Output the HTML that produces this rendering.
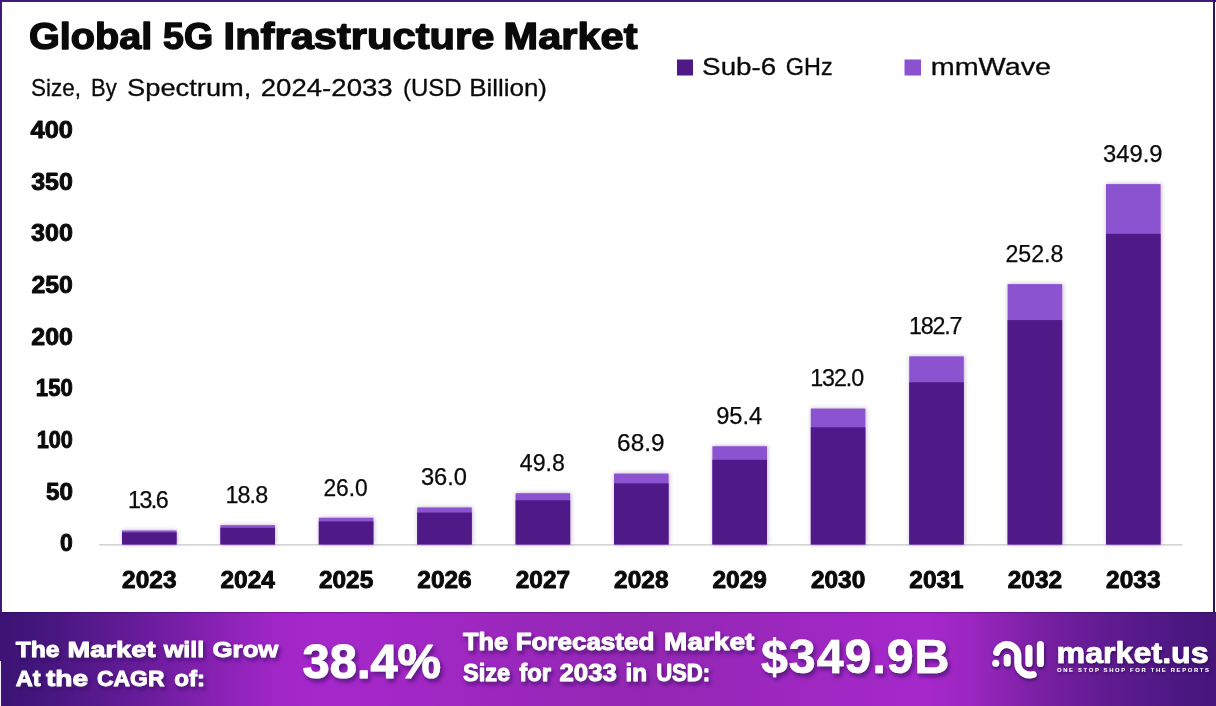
<!DOCTYPE html>
<html lang="en"><head><meta charset="utf-8"><title>Global 5G Infrastructure Market</title>
<style>
html,body{margin:0;padding:0;background:#fff;}
body{width:1216px;height:706px;overflow:hidden;position:relative;font-family:"Liberation Sans",sans-serif;}
svg{position:absolute;left:0;top:0;display:block;}
svg text{font-family:"Liberation Sans",sans-serif;}
</style></head><body>
<svg width="1216" height="706" viewBox="0 0 1216 706">
<defs>
<linearGradient id="bg" x1="0" y1="0" x2="1" y2="0">
<stop offset="0" stop-color="#3c1374"/>
<stop offset="0.025" stop-color="#40157a"/>
<stop offset="0.12" stop-color="#6a1c9c"/>
<stop offset="0.225" stop-color="#a026c6"/>
<stop offset="0.27" stop-color="#a628cb"/>
<stop offset="0.53" stop-color="#9327b3"/>
<stop offset="0.76" stop-color="#a628cb"/>
<stop offset="0.80" stop-color="#9a26c0"/>
<stop offset="0.853" stop-color="#7a20a4"/>
<stop offset="0.914" stop-color="#5e1b90"/>
<stop offset="0.976" stop-color="#4a1780"/>
<stop offset="1" stop-color="#45157a"/>
</linearGradient>
<filter id="bsh" x="-20%" y="-5%" width="140%" height="110%"><feDropShadow dx="0.6" dy="0" stdDeviation="2.2" flood-color="#3a2060" flood-opacity="0.33"/></filter>
<filter id="tsh" x="-10%" y="-30%" width="120%" height="170%"><feDropShadow dx="2" dy="3" stdDeviation="2.2" flood-color="#3b0f63" flood-opacity="0.75"/></filter>
<filter id="lsh" x="-20%" y="-30%" width="140%" height="170%"><feDropShadow dx="0.8" dy="1.6" stdDeviation="1.5" flood-color="#350d5c" flood-opacity="1"/></filter>
</defs>
<rect x="0" y="0" width="1216" height="706" fill="#ffffff"/>

<text y="49.1" font-size="37.2" font-weight="700" fill="#0a0a0a" stroke="#0a0a0a" stroke-width="1.4" stroke-linejoin="round"><tspan x="28.9" textLength="123.3" lengthAdjust="spacingAndGlyphs">Global</tspan> <tspan x="163.1" textLength="50.1" lengthAdjust="spacingAndGlyphs">5G</tspan> <tspan x="223.6" textLength="270.7" lengthAdjust="spacingAndGlyphs">Infrastructure</tspan> <tspan x="503.6" textLength="133.9" lengthAdjust="spacingAndGlyphs">Market</tspan></text>
<text y="95.8" font-size="24.3" font-weight="400" fill="#0a0a0a" stroke="#0a0a0a" stroke-width="0.3" stroke-linejoin="round"><tspan x="31.1" textLength="49.9" lengthAdjust="spacingAndGlyphs">Size,</tspan> <tspan x="91" textLength="25.7" lengthAdjust="spacingAndGlyphs">By</tspan> <tspan x="127.1" textLength="124.3" lengthAdjust="spacingAndGlyphs">Spectrum,</tspan> <tspan x="260.7" textLength="132.0" lengthAdjust="spacingAndGlyphs">2024-2033</tspan> <tspan x="403" textLength="58.6" lengthAdjust="spacingAndGlyphs">(USD</tspan> <tspan x="469.2" textLength="77.8" lengthAdjust="spacingAndGlyphs">Billion)</tspan></text>
<rect x="677" y="59.5" width="16" height="16" fill="#4f1a87"/>
<text y="75.4" font-size="24.4" font-weight="400" fill="#0a0a0a" stroke="#0a0a0a" stroke-width="0.3" stroke-linejoin="round"><tspan x="702.1" textLength="74.2" lengthAdjust="spacingAndGlyphs">Sub-6</tspan> <tspan x="785.8" textLength="46.8" lengthAdjust="spacingAndGlyphs">GHz</tspan></text>
<rect x="904.5" y="59.5" width="16.5" height="16" fill="#8b52d0"/>
<text x="930.7" y="75.4" font-size="24.4" font-weight="400" text-anchor="start" fill="#0a0a0a" textLength="120.4" lengthAdjust="spacingAndGlyphs" stroke="#0a0a0a" stroke-width="0.3" stroke-linejoin="round">mmWave</text>
<text x="60.1" y="551.2" font-size="23.4" font-weight="700" text-anchor="start" fill="#0a0a0a" textLength="12.8" lengthAdjust="spacingAndGlyphs" stroke="#0a0a0a" stroke-width="0.9" stroke-linejoin="round">0</text>
<text x="45.9" y="499.56" font-size="23.4" font-weight="700" text-anchor="start" fill="#0a0a0a" textLength="27.0" lengthAdjust="spacingAndGlyphs" stroke="#0a0a0a" stroke-width="0.9" stroke-linejoin="round">50</text>
<text x="36.7" y="447.92" font-size="23.4" font-weight="700" text-anchor="start" fill="#0a0a0a" textLength="36.2" lengthAdjust="spacingAndGlyphs" stroke="#0a0a0a" stroke-width="0.9" stroke-linejoin="round">100</text>
<text x="35.8" y="396.28" font-size="23.4" font-weight="700" text-anchor="start" fill="#0a0a0a" textLength="37.1" lengthAdjust="spacingAndGlyphs" stroke="#0a0a0a" stroke-width="0.9" stroke-linejoin="round">150</text>
<text x="31.3" y="344.64" font-size="23.4" font-weight="700" text-anchor="start" fill="#0a0a0a" textLength="41.6" lengthAdjust="spacingAndGlyphs" stroke="#0a0a0a" stroke-width="0.9" stroke-linejoin="round">200</text>
<text x="31.5" y="293.0" font-size="23.4" font-weight="700" text-anchor="start" fill="#0a0a0a" textLength="41.4" lengthAdjust="spacingAndGlyphs" stroke="#0a0a0a" stroke-width="0.9" stroke-linejoin="round">250</text>
<text x="31.0" y="241.36" font-size="23.4" font-weight="700" text-anchor="start" fill="#0a0a0a" textLength="41.9" lengthAdjust="spacingAndGlyphs" stroke="#0a0a0a" stroke-width="0.9" stroke-linejoin="round">300</text>
<text x="31.2" y="189.72" font-size="23.4" font-weight="700" text-anchor="start" fill="#0a0a0a" textLength="41.7" lengthAdjust="spacingAndGlyphs" stroke="#0a0a0a" stroke-width="0.9" stroke-linejoin="round">350</text>
<text x="30.5" y="138.08" font-size="23.4" font-weight="700" text-anchor="start" fill="#0a0a0a" textLength="42.4" lengthAdjust="spacingAndGlyphs" stroke="#0a0a0a" stroke-width="0.9" stroke-linejoin="round">400</text>
<rect x="99" y="544" width="1083.5" height="1.6" fill="#d4d4d4"/>
<g filter="url(#bsh)">
<rect x="122.0" y="530.49" width="54.6" height="14.01" fill="#8b52d0"/>
<rect x="220.4" y="525.14" width="54.6" height="19.36" fill="#8b52d0"/>
<rect x="318.8" y="517.72" width="54.6" height="26.78" fill="#8b52d0"/>
<rect x="417.2" y="507.42" width="54.6" height="37.08" fill="#8b52d0"/>
<rect x="515.6" y="493.21" width="54.6" height="51.29" fill="#8b52d0"/>
<rect x="614.0" y="473.53" width="54.6" height="70.97" fill="#8b52d0"/>
<rect x="712.4" y="446.24" width="54.6" height="98.26" fill="#8b52d0"/>
<rect x="810.8" y="408.54" width="54.6" height="135.96" fill="#8b52d0"/>
<rect x="909.2" y="356.32" width="54.6" height="188.18" fill="#8b52d0"/>
<rect x="1007.6" y="284.12" width="54.6" height="260.38" fill="#8b52d0"/>
<rect x="1106.0" y="184.10" width="54.6" height="360.40" fill="#8b52d0"/>
</g>
<rect x="122.0" y="532.43" width="54.6" height="12.07" fill="#4f1a87"/>
<rect x="220.4" y="527.81" width="54.6" height="16.69" fill="#4f1a87"/>
<rect x="318.8" y="521.42" width="54.6" height="23.08" fill="#4f1a87"/>
<rect x="417.2" y="512.54" width="54.6" height="31.96" fill="#4f1a87"/>
<rect x="515.6" y="500.28" width="54.6" height="44.22" fill="#4f1a87"/>
<rect x="614.0" y="483.33" width="54.6" height="61.17" fill="#4f1a87"/>
<rect x="712.4" y="459.80" width="54.6" height="84.70" fill="#4f1a87"/>
<rect x="810.8" y="427.30" width="54.6" height="117.20" fill="#4f1a87"/>
<rect x="909.2" y="382.29" width="54.6" height="162.21" fill="#4f1a87"/>
<rect x="1007.6" y="320.05" width="54.6" height="224.45" fill="#4f1a87"/>
<rect x="1106.0" y="233.84" width="54.6" height="310.66" fill="#4f1a87"/>
<text x="128.1" y="508.39" font-size="23.3" font-weight="400" text-anchor="start" fill="#0a0a0a" letter-spacing="-1.57" stroke="#0a0a0a" stroke-width="0.25" stroke-linejoin="round">13.6</text>
<text x="122.1" y="588.2" font-size="23.6" font-weight="700" text-anchor="start" fill="#0a0a0a" textLength="54.4" lengthAdjust="spacingAndGlyphs" stroke="#0a0a0a" stroke-width="0.9" stroke-linejoin="round">2023</text>
<text x="225.5" y="503.04" font-size="23.3" font-weight="400" text-anchor="start" fill="#0a0a0a" letter-spacing="-0.9" stroke="#0a0a0a" stroke-width="0.25" stroke-linejoin="round">18.8</text>
<text x="220.5" y="588.2" font-size="23.6" font-weight="700" text-anchor="start" fill="#0a0a0a" textLength="54.4" lengthAdjust="spacingAndGlyphs" stroke="#0a0a0a" stroke-width="0.9" stroke-linejoin="round">2024</text>
<text x="323.4" y="495.62" font-size="23.3" font-weight="400" text-anchor="start" fill="#0a0a0a" textLength="44.4" lengthAdjust="spacingAndGlyphs" stroke="#0a0a0a" stroke-width="0.25" stroke-linejoin="round">26.0</text>
<text x="318.9" y="588.2" font-size="23.6" font-weight="700" text-anchor="start" fill="#0a0a0a" textLength="54.4" lengthAdjust="spacingAndGlyphs" stroke="#0a0a0a" stroke-width="0.9" stroke-linejoin="round">2025</text>
<text x="420.95" y="485.32" font-size="23.3" font-weight="400" text-anchor="start" fill="#0a0a0a" textLength="46.1" lengthAdjust="spacingAndGlyphs" stroke="#0a0a0a" stroke-width="0.25" stroke-linejoin="round">36.0</text>
<text x="417.3" y="588.2" font-size="23.6" font-weight="700" text-anchor="start" fill="#0a0a0a" textLength="54.4" lengthAdjust="spacingAndGlyphs" stroke="#0a0a0a" stroke-width="0.9" stroke-linejoin="round">2026</text>
<text x="519.85" y="471.11" font-size="23.3" font-weight="400" text-anchor="start" fill="#0a0a0a" textLength="45.1" lengthAdjust="spacingAndGlyphs" stroke="#0a0a0a" stroke-width="0.25" stroke-linejoin="round">49.8</text>
<text x="515.7" y="588.2" font-size="23.6" font-weight="700" text-anchor="start" fill="#0a0a0a" textLength="54.4" lengthAdjust="spacingAndGlyphs" stroke="#0a0a0a" stroke-width="0.9" stroke-linejoin="round">2027</text>
<text x="617.1" y="451.43" font-size="23.3" font-weight="400" text-anchor="start" fill="#0a0a0a" textLength="47.4" lengthAdjust="spacingAndGlyphs" stroke="#0a0a0a" stroke-width="0.25" stroke-linejoin="round">68.9</text>
<text x="614.1" y="588.2" font-size="23.6" font-weight="700" text-anchor="start" fill="#0a0a0a" textLength="54.4" lengthAdjust="spacingAndGlyphs" stroke="#0a0a0a" stroke-width="0.9" stroke-linejoin="round">2028</text>
<text x="716.15" y="424.14" font-size="23.3" font-weight="400" text-anchor="start" fill="#0a0a0a" textLength="46.1" lengthAdjust="spacingAndGlyphs" stroke="#0a0a0a" stroke-width="0.25" stroke-linejoin="round">95.4</text>
<text x="712.5" y="588.2" font-size="23.6" font-weight="700" text-anchor="start" fill="#0a0a0a" textLength="54.4" lengthAdjust="spacingAndGlyphs" stroke="#0a0a0a" stroke-width="0.9" stroke-linejoin="round">2029</text>
<text x="810.2" y="386.44" font-size="23.3" font-weight="400" text-anchor="start" fill="#0a0a0a" letter-spacing="-1.08" stroke="#0a0a0a" stroke-width="0.25" stroke-linejoin="round">132.0</text>
<text x="810.9" y="588.2" font-size="23.6" font-weight="700" text-anchor="start" fill="#0a0a0a" textLength="54.4" lengthAdjust="spacingAndGlyphs" stroke="#0a0a0a" stroke-width="0.9" stroke-linejoin="round">2030</text>
<text x="909.1" y="334.22" font-size="23.3" font-weight="400" text-anchor="start" fill="#0a0a0a" letter-spacing="-1.25" stroke="#0a0a0a" stroke-width="0.25" stroke-linejoin="round">182.7</text>
<text x="909.3" y="588.2" font-size="23.6" font-weight="700" text-anchor="start" fill="#0a0a0a" textLength="54.4" lengthAdjust="spacingAndGlyphs" stroke="#0a0a0a" stroke-width="0.9" stroke-linejoin="round">2031</text>
<text x="1005.4" y="262.02" font-size="23.3" font-weight="400" text-anchor="start" fill="#0a0a0a" textLength="58" lengthAdjust="spacingAndGlyphs" stroke="#0a0a0a" stroke-width="0.25" stroke-linejoin="round">252.8</text>
<text x="1007.7" y="588.2" font-size="23.6" font-weight="700" text-anchor="start" fill="#0a0a0a" textLength="54.4" lengthAdjust="spacingAndGlyphs" stroke="#0a0a0a" stroke-width="0.9" stroke-linejoin="round">2032</text>
<text x="1103.05" y="162.0" font-size="23.3" font-weight="400" text-anchor="start" fill="#0a0a0a" textLength="59.5" lengthAdjust="spacingAndGlyphs" stroke="#0a0a0a" stroke-width="0.25" stroke-linejoin="round">349.9</text>
<text x="1106.1" y="588.2" font-size="23.6" font-weight="700" text-anchor="start" fill="#0a0a0a" textLength="54.4" lengthAdjust="spacingAndGlyphs" stroke="#0a0a0a" stroke-width="0.9" stroke-linejoin="round">2033</text>
<rect x="0" y="612" width="1216" height="94" fill="url(#bg)"/>
<rect x="0" y="612" width="1216" height="1.2" fill="#1a0040" fill-opacity="0.28"/>
<rect x="0" y="0" width="1216" height="2" fill="#3f1a7c"/>
<rect x="0" y="0" width="2" height="613" fill="#3f1a7c"/>
<rect x="1213" y="0" width="2" height="613" fill="#2f145f"/>
<rect x="0" y="661" width="1" height="45" fill="#f4eefa"/>
<g filter="url(#tsh)" fill="#ffffff">
<text y="657" font-size="22.6" font-weight="700" fill="#fff" stroke="#fff" stroke-width="0.9" stroke-linejoin="round"><tspan x="15.7" textLength="43.9" lengthAdjust="spacingAndGlyphs">The</tspan> <tspan x="67.5" textLength="88.0" lengthAdjust="spacingAndGlyphs">Market</tspan> <tspan x="163.7" textLength="40.7" lengthAdjust="spacingAndGlyphs">will</tspan> <tspan x="212.6" textLength="65.8" lengthAdjust="spacingAndGlyphs">Grow</tspan></text>
<text y="686.1" font-size="22.6" font-weight="700" fill="#fff" stroke="#fff" stroke-width="0.9" stroke-linejoin="round"><tspan x="15.7" textLength="24.8" lengthAdjust="spacingAndGlyphs">At</tspan> <tspan x="46" textLength="42" lengthAdjust="spacingAndGlyphs">the</tspan> <tspan x="97.1" textLength="67.3" lengthAdjust="spacingAndGlyphs">CAGR</tspan> <tspan x="174.3" textLength="30.7" lengthAdjust="spacingAndGlyphs">of:</tspan></text>
<text x="302.6" y="678.1" font-size="48.8" font-weight="700" text-anchor="start" fill="#fff" textLength="138.4" lengthAdjust="spacingAndGlyphs" stroke="#fff" stroke-width="1.1" stroke-linejoin="round">38.4%</text>
<text y="650.3" font-size="23" font-weight="700" fill="#fff" stroke="#fff" stroke-width="0.9" stroke-linejoin="round"><tspan x="463" textLength="45" lengthAdjust="spacingAndGlyphs">The</tspan> <tspan x="515.7" textLength="138.6" lengthAdjust="spacingAndGlyphs">Forecasted</tspan> <tspan x="664.1" textLength="90.2" lengthAdjust="spacingAndGlyphs">Market</tspan></text>
<text y="680.5" font-size="23" font-weight="700" fill="#fff" stroke="#fff" stroke-width="0.9" stroke-linejoin="round"><tspan x="463" textLength="47.1" lengthAdjust="spacingAndGlyphs">Size</tspan> <tspan x="519.3" textLength="31.7" lengthAdjust="spacingAndGlyphs">for</tspan> <tspan x="559.6" textLength="57.1" lengthAdjust="spacingAndGlyphs">2033</tspan> <tspan x="625.4" textLength="21.6" lengthAdjust="spacingAndGlyphs">in</tspan> <tspan x="656.2" textLength="53.9" lengthAdjust="spacingAndGlyphs">USD:</tspan></text>
<text x="761" y="673.2" font-size="48.3" font-weight="700" fill="#fff" stroke="#fff" stroke-width="0.6" textLength="188.5" lengthAdjust="spacing">$349.9B</text>
</g>
<g filter="url(#lsh)">
<g fill="none" stroke="#ffffff" stroke-width="7" stroke-linecap="round">
<path d="M996.6 652.5 A10.8 10.8 0 0 1 1017.8 655.3 L1017.8 663 A12 12 0 0 0 1033.2 674.5"/>
<path d="M1007.2 657.6 L1007.2 663"/>
<path d="M1028.9 648.3 L1028.9 663.4"/>
<path d="M1040.4 644.6 L1040.4 663.4"/>
</g>
<circle cx="995.7" cy="663.2" r="3.5" fill="#ffffff"/>
<text x="1056.5" y="662.9" font-size="30" font-weight="700" text-anchor="start" fill="#fff" textLength="152.2" lengthAdjust="spacingAndGlyphs" stroke="#fff" stroke-width="0.7" stroke-linejoin="round">market.us</text>
<text x="1057" y="672.1" font-size="5.9" font-weight="700" fill="#fff" textLength="152" lengthAdjust="spacing">ONE STOP SHOP FOR THE REPORTS</text>
</g>
</svg>
</body></html>
